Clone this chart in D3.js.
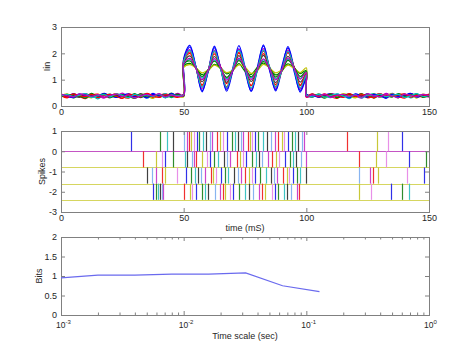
<!DOCTYPE html>
<html><head><meta charset="utf-8">
<script src="https://cdn.jsdelivr.net/npm/d3@7"></script>
<style>
body{margin:0;background:#fff}
svg{display:block;background:#fff}
text{font-family:"Liberation Sans",Arial,Helvetica,sans-serif;fill:#262626}
</style>
</head><body>
<svg id="c" width="474" height="355"></svg>
<script>
// ---------------- DATA ----------------
// Panel 1: input current traces (time in ms; 50 and 100 appear twice for the steps)
const iinTime = [0,2.5,5,7.5,10,12.5,15,17.5,20,22.5,25,27.5,30,32.5,35,37.5,40,42.5,45,47.5,50,
  50,52.5,55,57.5,60,62.5,65,67.5,70,72.5,75,77.5,80,82.5,85,87.5,90,92.5,95,97.5,100,
  100,102.5,105,107.5,110,112.5,115,117.5,120,122.5,125,127.5,130,132.5,135,137.5,140,142.5,145,147.5,150];
const iinTrial1 = [0.42,0.35,0.47,0.38,0.44,0.33,0.40,0.46,0.36,0.41,0.30,0.45,0.39,0.43,0.35,0.48,0.37,0.42,0.34,0.44,0.40,
  1.62,2.24,1.50,0.58,1.30,2.22,1.46,0.63,1.44,2.17,1.33,0.57,1.47,2.28,1.35,0.62,1.50,2.21,1.32,0.59,1.10,
  0.38,0.45,0.33,0.41,0.47,0.36,0.40,0.31,0.44,0.39,0.46,0.35,0.42,0.37,0.48,0.34,0.41,0.45,0.36,0.43,0.39];
const iinTrial2 = [0.36,0.44,0.31,0.40,0.37,0.48,0.34,0.39,0.45,0.33,0.42,0.38,0.29,0.41,0.46,0.35,0.43,0.37,0.49,0.36,0.42,
  1.50,1.62,1.45,1.19,1.34,1.58,1.47,1.22,1.35,1.61,1.32,1.20,1.46,1.63,1.44,1.18,1.33,1.60,1.45,1.23,1.35,
  0.44,0.37,0.41,0.30,0.46,0.39,0.35,0.43,0.38,0.47,0.33,0.40,0.45,0.36,0.42,0.31,0.44,0.38,0.46,0.35,0.41];
const iinTrial3 = [0.40,0.31,0.43,0.36,0.28,0.41,0.45,0.33,0.39,0.47,0.35,0.30,0.42,0.37,0.44,0.32,0.40,0.46,0.38,0.33,0.45,
  1.70,2.00,1.48,0.80,1.34,1.98,1.50,0.85,1.33,2.02,1.45,0.78,1.38,1.99,1.43,0.81,1.36,2.03,1.49,0.79,1.25,
  0.33,0.42,0.38,0.46,0.35,0.29,0.43,0.40,0.36,0.45,0.31,0.39,0.47,0.34,0.41,0.37,0.30,0.44,0.39,0.35,0.42];
const iinTrial4 = [0.34,0.41,0.37,0.45,0.32,0.39,0.27,0.43,0.40,0.35,0.46,0.33,0.38,0.44,0.30,0.41,0.36,0.47,0.32,0.40,0.37,
  1.55,1.76,1.44,1.06,1.38,1.74,1.42,1.04,1.35,1.77,1.47,1.07,1.33,1.75,1.49,1.03,1.34,1.78,1.46,1.05,1.30,
  0.41,0.34,0.46,0.37,0.32,0.44,0.39,0.28,0.42,0.36,0.40,0.47,0.33,0.38,0.43,0.35,0.45,0.31,0.40,0.37,0.44];
const iinTrial5 = [0.45,0.38,0.33,0.42,0.47,0.36,0.41,0.30,0.44,0.38,0.49,0.35,0.40,0.32,0.46,0.39,0.34,0.43,0.37,0.48,0.41,
  1.78,2.14,1.46,0.66,1.33,2.12,1.49,0.69,1.35,2.16,1.42,0.64,1.37,2.18,1.44,0.67,1.38,2.13,1.45,0.65,1.15,
  0.36,0.43,0.39,0.34,0.47,0.41,0.33,0.45,0.37,0.30,0.44,0.40,0.35,0.48,0.38,0.42,0.33,0.46,0.41,0.37,0.34];
const iinTrial6 = [0.39,0.46,0.35,0.42,0.38,0.31,0.44,0.40,0.36,0.47,0.33,0.41,0.37,0.45,0.39,0.29,0.42,0.36,0.44,0.38,0.35,
  1.46,1.57,1.45,1.26,1.37,1.55,1.43,1.27,1.36,1.56,1.48,1.24,1.34,1.58,1.45,1.26,1.37,1.55,1.43,1.27,1.45,
  0.42,0.38,0.45,0.33,0.40,0.36,0.47,0.39,0.31,0.43,0.37,0.44,0.34,0.41,0.46,0.38,0.35,0.42,0.30,0.45,0.38];
const iinTrial7 = [0.37,0.43,0.40,0.33,0.45,0.39,0.36,0.42,0.31,0.44,0.38,0.41,0.35,0.47,0.34,0.40,0.43,0.32,0.39,0.45,0.38,
  1.64,1.90,1.46,0.92,1.32,1.88,1.48,0.90,1.35,1.91,1.43,0.93,1.39,1.92,1.44,0.89,1.36,1.89,1.47,0.91,1.20,
  0.40,0.35,0.44,0.38,0.42,0.33,0.39,0.46,0.37,0.41,0.34,0.45,0.39,0.32,0.43,0.40,0.36,0.47,0.38,0.41,0.36];
const iinTrial8 = [0.43,0.37,0.32,0.45,0.39,0.42,0.35,0.48,0.38,0.33,0.41,0.46,0.36,0.40,0.31,0.44,0.39,0.35,0.47,0.37,0.43,
  1.80,2.30,1.48,0.54,1.34,2.27,1.46,0.56,1.33,2.29,1.49,0.55,1.35,2.32,1.42,0.57,1.37,2.26,1.45,0.53,1.05,
  0.45,0.39,0.34,0.42,0.37,0.44,0.40,0.32,0.46,0.38,0.35,0.43,0.41,0.29,0.44,0.36,0.40,0.48,0.34,0.39,0.43];
const iinTrial9 = [0.35,0.40,0.44,0.37,0.30,0.43,0.38,0.45,0.34,0.39,0.42,0.36,0.47,0.33,0.41,0.37,0.44,0.40,0.35,0.42,0.39,
  1.58,1.71,1.45,1.12,1.38,1.70,1.43,1.09,1.36,1.72,1.44,1.11,1.37,1.69,1.45,1.10,1.32,1.73,1.48,1.12,1.32,
  0.37,0.44,0.41,0.35,0.46,0.32,0.40,0.43,0.38,0.36,0.45,0.30,0.42,0.39,0.34,0.47,0.37,0.41,0.44,0.33,0.40];
const iinTrial10 = [0.41,0.34,0.46,0.39,0.36,0.44,0.32,0.40,0.43,0.37,0.29,0.45,0.41,0.35,0.48,0.38,0.33,0.42,0.40,0.36,0.44,
  1.72,2.05,1.44,0.75,1.37,2.06,1.45,0.73,1.38,2.04,1.42,0.76,1.36,2.08,1.48,0.74,1.33,2.05,1.46,0.77,1.22,
  0.39,0.46,0.35,0.43,0.38,0.41,0.33,0.47,0.36,0.42,0.39,0.31,0.45,0.40,0.37,0.43,0.46,0.34,0.41,0.38,0.45];
const iinTrial11 = [0.38,0.44,0.36,0.41,0.47,0.33,0.39,0.43,0.35,0.46,0.40,0.32,0.44,0.38,0.42,0.36,0.45,0.31,0.41,0.39,0.43,
  1.68,2.10,1.47,0.71,1.35,2.09,1.42,0.70,1.39,2.11,1.46,0.68,1.34,2.12,1.48,0.72,1.35,2.08,1.43,0.69,1.18,
  0.41,0.37,0.44,0.34,0.40,0.46,0.38,0.35,0.43,0.31,0.42,0.39,0.45,0.36,0.40,0.44,0.33,0.38,0.47,0.36,0.40];
const iinTrial12 = [0.44,0.39,0.35,0.46,0.41,0.37,0.43,0.34,0.40,0.45,0.36,0.42,0.30,0.39,0.44,0.38,0.47,0.35,0.41,0.37,0.40,
  1.60,1.81,1.43,1.00,1.36,1.80,1.48,0.98,1.34,1.82,1.45,1.01,1.39,1.79,1.42,0.99,1.37,1.83,1.44,1.02,1.28,
  0.35,0.42,0.38,0.45,0.33,0.40,0.44,0.37,0.41,0.34,0.46,0.39,0.36,0.43,0.38,0.32,0.45,0.40,0.37,0.44,0.39];
const iinTrials = [iinTrial1,iinTrial2,iinTrial3,iinTrial4,iinTrial5,iinTrial6,iinTrial7,iinTrial8,iinTrial9,iinTrial10,iinTrial11,iinTrial12];

// Panel 2: spike times (ms) per row, and row baselines
const spikeRowBase = [0, -0.8, -1.6, -2.4];
const spikeRowTop  = [1, 0, -0.8, -1.6];
const spikesRow0 = [28.4,40.4,43.1,45.5,50.2,51.2,52.2,53.0,54.1,55.3,56.2,58.0,59.2,60.7,61.6,63.5,64.8,66.2,67.5,69.6,70.8,72.3,73.2,74.3,76.1,77.0,78.0,79.2,80.4,82.5,83.8,85.5,87.2,88.6,90.2,91.0,92.6,94.0,95.3,96.7,98.2,99.2,116.4,128.7,133.4,138.9];
const spikesRow1 = [33.3,38.7,41.0,42.4,45.5,50.4,51.5,53.4,54.3,55.1,57.6,59.5,60.8,62.3,64.0,66.4,67.7,69.0,71.6,73.1,74.3,75.6,77.8,79.6,80.9,82.0,84.3,86.0,87.5,89.0,91.2,93.3,94.6,95.8,98.0,99.9,121.6,128.4,132.5,142.0,148.6];
const spikesRow2 = [35.2,37.1,38.7,41.0,42.4,47.4,51.0,52.8,54.5,55.8,56.9,58.6,61.0,62.1,63.3,65.1,66.9,68.2,70.4,72.0,73.4,74.8,76.7,78.0,79.0,81.3,83.6,85.7,86.9,88.1,90.5,92.0,93.1,94.4,96.3,97.6,100.0,121.6,126.0,127.3,129.1,141.2,148.0];
const spikesRow3 = [37.4,38.7,39.7,40.4,41.0,41.7,50.3,52.4,53.6,55.0,57.3,58.7,59.9,62.6,64.8,65.9,67.0,69.0,70.1,72.7,75.2,76.5,78.3,80.8,81.9,83.0,85.9,87.1,88.4,90.9,92.3,93.6,96.0,97.2,121.6,126.4,134.4,139.1,141.8];
const spikeRows = [spikesRow0, spikesRow1, spikesRow2, spikesRow3];

// Panel 3: information (bits) vs time scale (sec)
const bitsTimeScale = [0.001,0.002,0.004,0.008,0.016,0.032,0.064,0.128];
const bitsValues    = [0.95,1.02,1.02,1.05,1.05,1.08,0.75,0.60];

// Tick labels
const iinYTicks = [0,1,2,3];
const timeXTicks = [0,50,100,150];
const spikeYTicks = [-3,-2,-1,0,1];
const bitsYTicks = [0,0.5,1,1.5,2];
const bitsXTicks = [0.001,0.01,0.1,1];
const bitsXExp = ["-3","-2","-1","0"];

// ---------------- STYLE ----------------
const traceColors = ["#0000ff","#008000","#ff0000","#00bfbf","#bf00bf","#bfbf00","#404040"];
const spikeColors = ["#3030e8","#cc44cc","#2e8b2e","#f03030","#40c4c4","#c8c838","#404040","#e890e8","#88b4f0"];
const rowLineColors = ["#c455c4","#d6d660","#d6d660","#d6d660"];
const axisColor = "#808080";
const X0 = 61, X1 = 429;
const FS = 9;

const svg = d3.select("#c");

function frame(g, x, y, top, bottom, opts){
  g.append("rect").attr("x",X0+0.5).attr("y",top+0.5).attr("width",X1-X0).attr("height",bottom-top)
    .attr("fill","none").attr("stroke",axisColor).attr("stroke-width",1);
  const style = sel => { sel.select(".domain").remove(); sel.selectAll("line").attr("stroke",axisColor);
    sel.selectAll("text").attr("fill","#262626").style("font-size",FS+"px").attr("font-family",null); };
  const b = g.append("g").attr("transform",`translate(0,${bottom})`).call(opts.xAxisB); style(b);
  const t = g.append("g").attr("transform",`translate(0,${top})`).call(opts.xAxisT); style(t);
  const l = g.append("g").attr("transform",`translate(${X0},0)`).call(opts.yAxisL); style(l);
  const r = g.append("g").attr("transform",`translate(${X1},0)`).call(opts.yAxisR); style(r);
}

// ---------- Panel 1 ----------
{
  const top=27,bottom=106;
  const x = d3.scaleLinear().domain([0,150]).range([X0,X1]);
  const y = d3.scaleLinear().domain([0,3]).range([bottom,top]);
  const g = svg.append("g");
  g.append("clipPath").attr("id","clip1").append("rect").attr("x",X0).attr("y",top).attr("width",X1-X0).attr("height",bottom-top);
  const line = d3.line().x((d,i)=>x(iinTime[i])).y(d=>y(d)).curve(d3.curveCatmullRom.alpha(0.5));
  g.append("g").attr("clip-path","url(#clip1)").selectAll("path").data(iinTrials).join("path")
    .attr("d",line).attr("fill","none").attr("stroke",(d,i)=>traceColors[i%traceColors.length]).attr("stroke-width",1.2);
  frame(g,x,y,top,bottom,{
    xAxisB: d3.axisBottom(x).tickValues(timeXTicks).tickSize(-4).tickPadding(3).tickFormat(d3.format("d")),
    xAxisT: d3.axisTop(x).tickValues(timeXTicks).tickSize(-4).tickFormat(""),
    yAxisL: d3.axisLeft(y).tickValues(iinYTicks).tickSize(-4).tickPadding(4).tickFormat(d3.format("d")),
    yAxisR: d3.axisRight(y).tickValues(iinYTicks).tickSize(-4).tickFormat("")
  });
  g.append("text").attr("transform",`translate(49.5,${(top+bottom)/2}) rotate(-90)`).attr("text-anchor","middle")
    .style("font-size",FS+"px").text("Iin");
}

// ---------- Panel 2 ----------
{
  const top=131,bottom=212;
  const x = d3.scaleLinear().domain([0,150]).range([X0,X1]);
  const y = d3.scaleLinear().domain([-3,1]).range([bottom,top]);
  const g = svg.append("g");
  g.append("clipPath").attr("id","clip2").append("rect").attr("x",X0).attr("y",top).attr("width",X1-X0).attr("height",bottom-top);
  const cg = g.append("g").attr("clip-path","url(#clip2)");
  cg.selectAll("line.row").data(spikeRowBase).join("line").attr("class","row")
    .attr("x1",x(0)).attr("x2",x(150)).attr("y1",d=>Math.round(y(d))+0.5).attr("y2",d=>Math.round(y(d))+0.5)
    .attr("stroke",(d,i)=>rowLineColors[i]).attr("stroke-width",1);
  spikeRows.forEach((row,r)=>{
    cg.append("g").selectAll("line").data(row).join("line")
      .attr("x1",d=>Math.round(x(d))+0.5).attr("x2",d=>Math.round(x(d))+0.5)
      .attr("y1",y(spikeRowBase[r])).attr("y2",y(spikeRowTop[r]))
      .attr("stroke",(d,i)=>spikeColors[(i*2+r*3)%spikeColors.length]).attr("stroke-width",1.2);
  });
  frame(g,x,y,top,bottom,{
    xAxisB: d3.axisBottom(x).tickValues(timeXTicks).tickSize(-4).tickPadding(3).tickFormat(d3.format("d")),
    xAxisT: d3.axisTop(x).tickValues(timeXTicks).tickSize(-4).tickFormat(""),
    yAxisL: d3.axisLeft(y).tickValues(spikeYTicks).tickSize(-4).tickPadding(4).tickFormat(d=>d<0?"-"+Math.abs(d):String(d)),
    yAxisR: d3.axisRight(y).tickValues(spikeYTicks).tickSize(-4).tickFormat("")
  });
  g.append("text").attr("transform",`translate(45,${(top+bottom)/2}) rotate(-90)`).attr("text-anchor","middle")
    .style("font-size",FS+"px").text("Spikes");
  g.append("text").attr("x",(X0+X1)/2).attr("y",231).attr("text-anchor","middle").style("font-size",FS+"px").text("time (mS)");
}

// ---------- Panel 3 ----------
{
  const top=237,bottom=315;
  const x = d3.scaleLog().domain([0.001,1]).range([X0,X1]);
  const y = d3.scaleLinear().domain([0,2]).range([bottom,top]);
  const g = svg.append("g");
  const minor = [];
  [0.001,0.01,0.1].forEach(dec=>{ for(let k=2;k<=9;k++) minor.push(dec*k); });
  g.append("g").attr("transform",`translate(0,${bottom})`).call(d3.axisBottom(x).tickValues(minor).tickSize(-2.5).tickFormat(""))
    .call(s=>{s.select(".domain").remove(); s.selectAll("line").attr("stroke",axisColor);});
  g.append("g").attr("transform",`translate(0,${top})`).call(d3.axisTop(x).tickValues(minor).tickSize(-2.5).tickFormat(""))
    .call(s=>{s.select(".domain").remove(); s.selectAll("line").attr("stroke",axisColor);});
  frame(g,x,y,top,bottom,{
    xAxisB: d3.axisBottom(x).tickValues(bitsXTicks).tickSize(-4).tickFormat(""),
    xAxisT: d3.axisTop(x).tickValues(bitsXTicks).tickSize(-4).tickFormat(""),
    yAxisL: d3.axisLeft(y).tickValues(bitsYTicks).tickSize(-4).tickPadding(4).tickFormat(d=>String(d)),
    yAxisR: d3.axisRight(y).tickValues(bitsYTicks).tickSize(-4).tickFormat("")
  });
  const lbl = g.append("g").selectAll("text").data(bitsXTicks).join("text")
    .attr("x",d=>x(d)-5).attr("y",bottom+13).style("font-size","8.5px");
  lbl.append("tspan").text("10");
  lbl.append("tspan").attr("dy",-4).style("font-size","6px").text((d,i)=>bitsXExp[i]);
  const line = d3.line().x((d,i)=>x(bitsTimeScale[i])).y(d=>y(d));
  g.append("path").datum(bitsValues).attr("d",line).attr("fill","none").attr("stroke","#6a6aee").attr("stroke-width",1.2);
  g.append("text").attr("transform",`translate(41.5,${(top+bottom)/2}) rotate(-90)`).attr("text-anchor","middle")
    .style("font-size",FS+"px").text("Bits");
  g.append("text").attr("x",(X0+X1)/2).attr("y",339).attr("text-anchor","middle").style("font-size",FS+"px").text("Time scale (sec)");
}
</script>
</body></html>
